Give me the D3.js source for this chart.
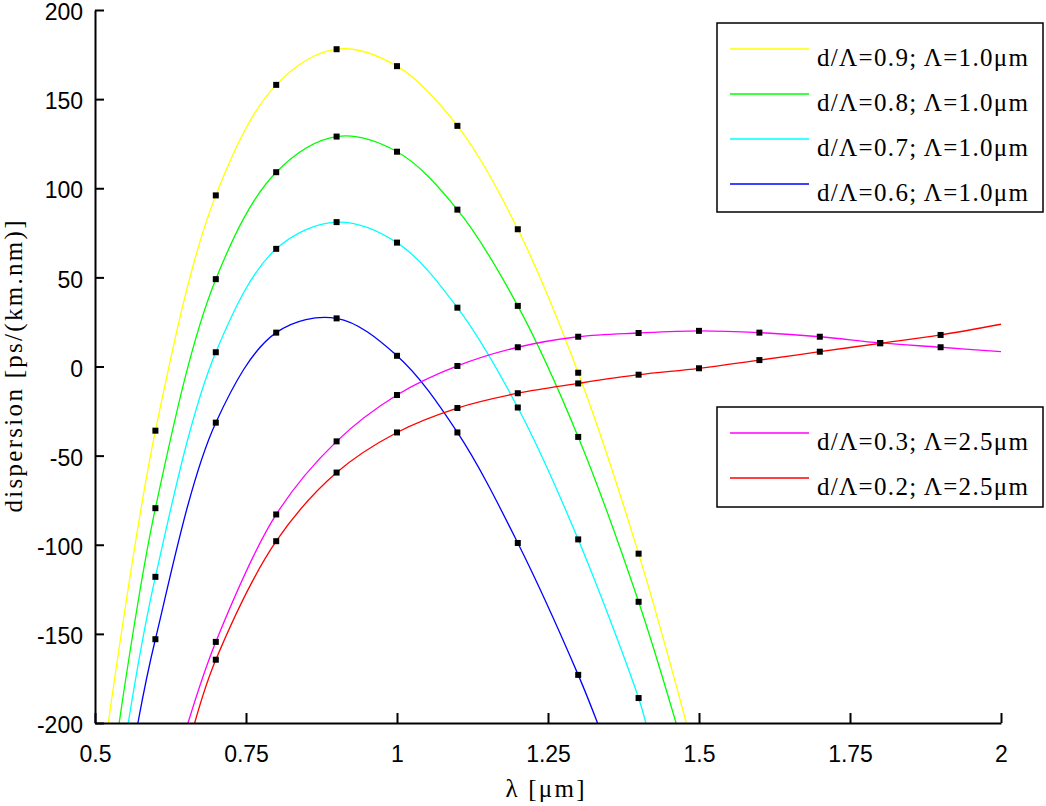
<!DOCTYPE html>
<html>
<head>
<meta charset="utf-8">
<script src="https://cdn.jsdelivr.net/npm/d3@7"></script>
<style>
  body { margin: 0; background: #fff; }
  .tick text { font-family: "Liberation Sans", Arial, sans-serif; font-size: 23px; fill: #000; }
  .serif { font-family: "Liberation Serif", "Times New Roman", serif; font-size: 25px; fill: #000; }
</style>
</head>
<body>
<div id="chart"></div>
<script>
// wavelengths where the markers sit
const lambda = [0.6, 0.7, 0.8, 0.9, 1.0, 1.1, 1.2, 1.3, 1.4, 1.5, 1.6, 1.7, 1.8, 1.9]

// dispersion, null = no marker there
const d09 = [-36, 96, 158, 178, 168.5, 135, 77, -3.5, -105, null, null, null, null, null]
const d08 = [-79.5, 49, 109, 129, 120.5, 88, 34, -39.5, -132, null, null, null, null, null]
const d07 = [-118, 8, 66, 81, 69.5, 33, -23, -97, -186, null, null, null, null, null]
const d06 = [-153, -31.5, 19, 27, 6, -37, -99, -173, null, null, null, null, null, null]
const d03 = [null, -154.5, -83, -42, -16, 0.3, 10.8, 16.7, 18.8, 20, 19, 16.7, 13.2, 10.8]
const d02 = [null, -164.5, -98, -59.5, -37, -23.3, -15, -9.5, -4.6, -1, 3.6, 8.3, 13, 17.7]

// where each fitted curve leaves the plot (first and last point of the line)
const edge09 = [[0.522, -200], [1.479, -200]]
const edge08 = [[0.540, -200], [1.462, -200]]
const edge07 = [[0.555, -200], [1.412, -200]]
const edge06 = [[0.571, -200], [1.332, -200]]
const edge03 = [[0.654, -200], [2.0, 8.3]]
const edge02 = [[0.665, -200], [2.0, 23.7]]

const legendTop = ["d/\u039B=0.9; \u039B=1.0\u03BCm", "d/\u039B=0.8; \u039B=1.0\u03BCm", "d/\u039B=0.7; \u039B=1.0\u03BCm", "d/\u039B=0.6; \u039B=1.0\u03BCm"]
const legendBottom = ["d/\u039B=0.3; \u039B=2.5\u03BCm", "d/\u039B=0.2; \u039B=2.5\u03BCm"]

const xTicks = [0.5, 0.75, 1, 1.25, 1.5, 1.75, 2]
const yTicks = [-200, -150, -100, -50, 0, 50, 100, 150, 200]

const series = [
  { values: d09, edge: edge09, color: "#ffff00" },
  { values: d08, edge: edge08, color: "#00ff00" },
  { values: d07, edge: edge07, color: "#00ffff" },
  { values: d06, edge: edge06, color: "#0000ff" },
  { values: d03, edge: edge03, color: "#ff00ff" },
  { values: d02, edge: edge02, color: "#ff0000" }
]

const W = 1046, H = 806
const padL = 95, padR = 1001, padT = 10, padB = 723

const svg = d3.select("#chart")
              .append("svg")
              .attr("width", W)
              .attr("height", H)

const x = d3.scaleLinear().domain([0.5, 2]).range([padL, padR])
const y = d3.scaleLinear().domain([-200, 200]).range([padB, padT])

svg.append("clipPath")
   .attr("id", "plot")
   .append("rect")
   .attr("x", padL).attr("y", padT)
   .attr("width", padR - padL).attr("height", padB - padT)

const line = d3.line()
               .x(d => x(d[0]))
               .y(d => y(d[1]))
               .curve(d3.curveCatmullRom.alpha(0.5))

series.forEach(s => {
  const pts = lambda.map((l, i) => [l, s.values[i]]).filter(p => p[1] !== null)
  s.pts = pts
  s.linePts = [s.edge[0], ...pts, s.edge[1]]
})

const g = svg.append("g").attr("clip-path", "url(#plot)")

g.selectAll("path.curve")
 .data(series)
 .enter()
 .append("path")
 .attr("class", "curve")
 .attr("d", s => line(s.linePts))
 .attr("fill", "none")
 .attr("stroke", s => s.color)
 .attr("stroke-width", 1.3)

// black square markers on top of the lines
g.selectAll("rect.mark")
 .data(series.flatMap(s => s.pts))
 .enter()
 .append("rect")
 .attr("class", "mark")
 .attr("x", d => x(d[0]) - 3)
 .attr("y", d => y(d[1]) - 3)
 .attr("width", 6)
 .attr("height", 6)
 .attr("fill", "#000")

// axes, ticks point inward, labels as plain numbers (0.75 not 0.8)
svg.append("g")
   .attr("transform", `translate(0,${padB})`)
   .call(d3.axisBottom(x).tickValues(xTicks).tickFormat(d => String(d)).tickSizeInner(-10).tickSizeOuter(0).tickPadding(23))
   .call(a => a.selectAll(".tick text").attr("dy", "0.71em"))

svg.append("g")
   .attr("transform", `translate(${padL},0)`)
   .call(d3.axisLeft(y).tickValues(yTicks).tickFormat(d => String(d)).tickSizeInner(-9).tickSizeOuter(0).tickPadding(12))
   .call(a => a.selectAll(".tick text").attr("dy", "0.42em"))

svg.selectAll(".domain, .tick line").attr("stroke", "#000").attr("stroke-width", 2)

// axis titles
svg.append("text")
   .attr("class", "serif")
   .attr("x", 545).attr("y", 797)
   .attr("text-anchor", "middle")
   .attr("textLength", 79)
   .text("\u03BB [\u03BCm]")

svg.append("text")
   .attr("class", "serif")
   .attr("transform", `translate(22,${(padT + padB) / 2}) rotate(-90)`)
   .attr("text-anchor", "middle")
   .attr("textLength", 292)
   .text("dispersion [ps/(km.nm)]")

// legends
function legend(labels, colors, bx, by, bh) {
  const lg = svg.append("g")
  lg.append("rect")
    .attr("x", bx).attr("y", by)
    .attr("width", 326).attr("height", bh)
    .attr("fill", "#fff").attr("stroke", "#000").attr("stroke-width", 1.5)
  labels.forEach((t, i) => {
    const ly = by + 26 + i * 45
    lg.append("line")
      .attr("x1", bx + 13).attr("x2", bx + 92)
      .attr("y1", ly).attr("y2", ly)
      .attr("stroke", colors[i]).attr("stroke-width", 1.5)
    lg.append("text")
      .attr("class", "serif")
      .attr("x", bx + 100).attr("y", ly + 17)
      .attr("textLength", 211)
      .text(t)
  })
}

legend(legendTop, series.slice(0, 4).map(s => s.color), 717, 23, 189)
legend(legendBottom, series.slice(4).map(s => s.color), 717, 407, 100)
</script>
</body>
</html>
